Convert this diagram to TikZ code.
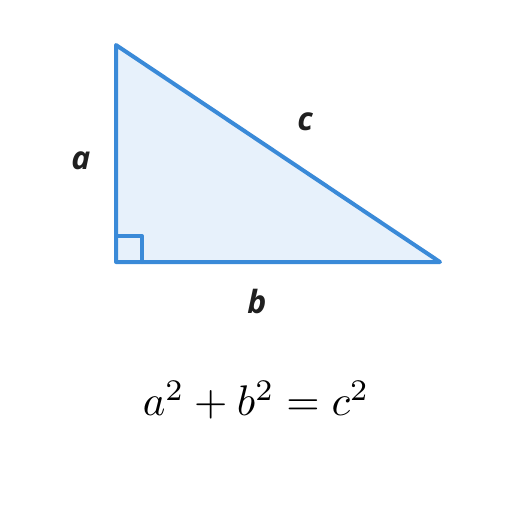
\documentclass[tikz,border=0pt]{standalone}
\usepackage{fontspec}
\newfontfamily\handfont{Open Sans}
\begin{document}
\begin{tikzpicture}[x=1pt,y=-1pt,
  edge/.style={draw=triblue,line width=4pt,line join=round,line cap=round},
  lbl/.style={font=\handfont\bfseries\itshape\fontsize{32}{40}\selectfont,text=black!88,inner sep=0pt}]
\definecolor{triblue}{HTML}{3A8AD8}
\definecolor{trifill}{HTML}{E7F1FB}
\useasboundingbox (0,0) rectangle (512,512);
\coordinate (A) at (116,45);
\coordinate (C) at (116,262);
\coordinate (B) at (440,262);
\fill[trifill] (A) -- (C) -- (B) -- cycle;
\draw[edge] (C) ++(0,-26) coordinate (r1) -- ++(26,0) coordinate (r2) -- ++(0,26) coordinate (r3);
\draw[edge] (A) -- (C) -- (B) -- cycle;
\node[lbl] (la) at (81,161) {a};
\node[lbl] (lc) at (305,122) {c};
\node[lbl] (lb) at (257,301) {b};
\node[scale=4.28,inner sep=0pt] (eq) at (256,400) {$a^2+b^2=c^2$};
\end{tikzpicture}
\end{document}
